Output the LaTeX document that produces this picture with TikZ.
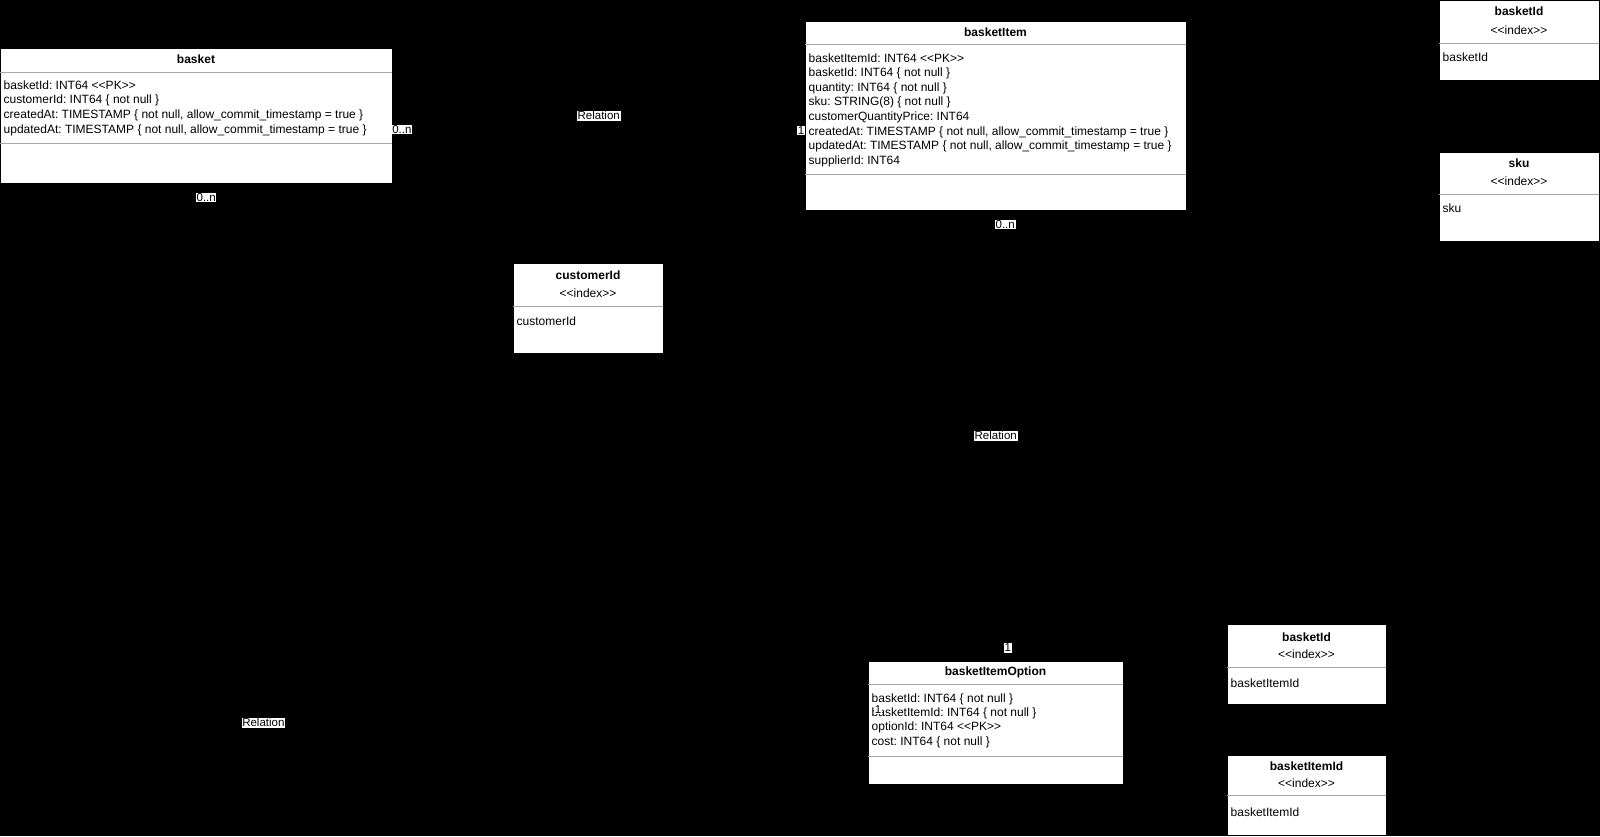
\documentclass[tikz,border=0pt]{standalone}
\usepackage{fontspec}
\setmainfont{Liberation Sans}[Ligatures=TeXOff]
\usetikzlibrary{arrows,positioning}
\frenchspacing
\tikzset{
    %Define style for class boxes
    classbox/.style={
           rectangle,
           draw=black,
           fill=white,
           anchor=north west,
           inner sep=0pt},
    %Define style for texts in the boxes
    headtext/.style={
           font=\fontsize{12}{14}\selectfont\bfseries,
           inner sep=0pt},
    stereo/.style={
           font=\fontsize{12}{14}\selectfont,
           inner sep=0pt},
    attr/.style={
           font=\fontsize{12}{14}\selectfont,
           anchor=base west,
           inner sep=0pt},
    divider/.style={
           draw=black!35,
           line width=1pt},
    % Define connector style
    rel/.style={
           draw=black,
           thin},
    lbl/.style={
           fill=white,
           font=\fontsize{11.5}{11.5}\selectfont,
           inner sep=0.7pt}
}
\begin{document}
\begin{tikzpicture}[x=1pt,y=-1pt]
\fill[black] (0,0) rectangle (1600,836);
\useasboundingbox (0,0) rectangle (1600,836);
 %tables
\node[classbox, minimum width=392, minimum height=135] (basket) at (0,48) {};
\node[headtext] at (196,59) {basket};
\draw[divider] (0,72) -- (392,72) (0,143) -- (392,143);
\foreach \t [count=\i from 0] in {{basketId: INT64 <<PK>>},
    {customerId: INT64 \{ not null \}},
    {createdAt: TIMESTAMP \{ not null, allow\_commit\_timestamp = true \}},
    {updatedAt: TIMESTAMP \{ not null, allow\_commit\_timestamp = true \}}}
  \node[attr] at (3.5,{89+14.8*\i}) {\t};

\node[classbox, minimum width=381, minimum height=189] (item) at (805,21) {};
\node[headtext] at (995.5,32) {basketItem};
\draw[divider] (805,44.5) -- (1186,44.5) (805,174) -- (1186,174);
\foreach \t [count=\i from 0] in {{basketItemId: INT64 <<PK>>},
    {basketId: INT64 \{ not null \}},
    {quantity: INT64 \{ not null \}},
    {sku: STRING(8) \{ not null \}},
    {customerQuantityPrice: INT64},
    {createdAt: TIMESTAMP \{ not null, allow\_commit\_timestamp = true \}},
    {updatedAt: TIMESTAMP \{ not null, allow\_commit\_timestamp = true \}},
    {supplierId: INT64}}
  \node[attr] at (808.5,{62+14.6*\i}) {\t};

\node[classbox, minimum width=255, minimum height=123] (option) at (868,661) {};
\node[headtext] at (995.5,672) {basketItemOption};
\draw[divider] (868,684.5) -- (1123,684.5) (868,756) -- (1123,756);
\foreach \t [count=\i from 0] in {{basketId: INT64 \{ not null \}},
    {basketItemId: INT64 \{ not null \}},
    {optionId: INT64 <<PK>>},
    {cost: INT64 \{ not null \}}}
  \node[attr] at (871.5,{702+14.4*\i}) {\t};

 %indexes
\node[classbox, minimum width=150, minimum height=90] (idxCustomer) at (513,263) {};
\node[headtext] at (588,275) {customerId};
\node[stereo] at (588,293) {<<index>>};
\draw[divider] (513,306.5) -- (663,306.5);
\node[attr] at (516.5,325) {customerId};

\node[classbox, minimum width=160, minimum height=80] (idxBasket) at (1439,0) {};
\node[headtext] at (1519,11) {basketId};
\node[stereo] at (1519,30) {<<index>>};
\draw[divider] (1439,43.5) -- (1599,43.5);
\node[attr] at (1442.5,61.5) {basketId};

\node[classbox, minimum width=160, minimum height=89] (idxSku) at (1439,152) {};
\node[headtext] at (1519,163.5) {sku};
\node[stereo] at (1519,181) {<<index>>};
\draw[divider] (1439,194.5) -- (1599,194.5);
\node[attr] at (1442.5,212.5) {sku};

\node[classbox, minimum width=159, minimum height=80] (idxOptBasket) at (1227,624) {};
\node[headtext] at (1306.5,637) {basketId};
\node[stereo] at (1306.5,654) {<<index>>};
\draw[divider] (1227,667) -- (1386,667);
\node[attr] at (1230.5,687) {basketItemId};

\node[classbox, minimum width=159, minimum height=80] (idxOptItem) at (1227,755) {};
\node[headtext] at (1306.5,766) {basketItemId};
\node[stereo] at (1306.5,783) {<<index>>};
\draw[divider] (1227,795.5) -- (1386,795.5);
\node[attr] at (1230.5,816) {basketItemId};

 %relations
\draw[rel] (basket) -- (item)
    node[lbl, pos=0.5] {Relation}
    node[lbl, at start, xshift=9.5pt, yshift=-14pt] {0..n}
    node[lbl, at end, xshift=-4pt, yshift=-15pt] {1};
\draw[rel] (item) -- (option)
    node[lbl, pos=0.5] {Relation}
    node[lbl, at start, xshift=9.5pt, yshift=-14pt] {0..n}
    node[lbl, at end, xshift=12pt, yshift=13pt] {1};
\draw[rel] (basket.south) |- (option.west)
    node[lbl, pos=0.55] {Relation}
    node[lbl, at start, xshift=10pt, yshift=-14pt] {0..n}
    node[lbl, at end, xshift=10pt, yshift=13pt] {1};
\end{tikzpicture}
\end{document}
